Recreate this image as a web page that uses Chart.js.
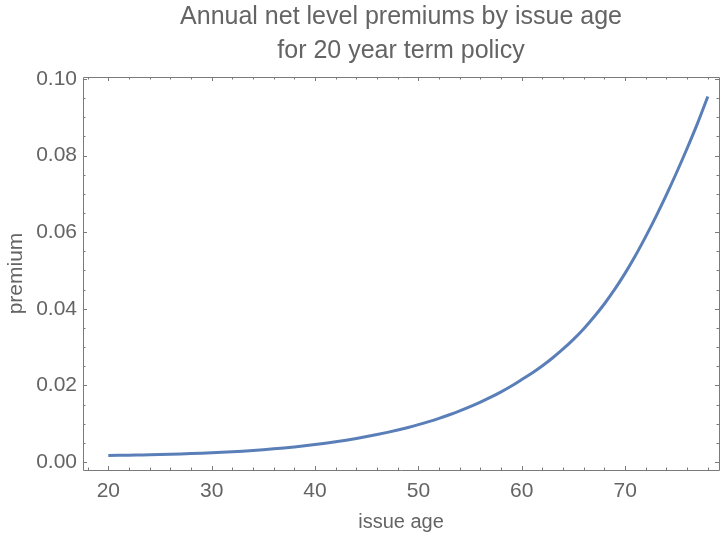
<!DOCTYPE html>
<html>
<head>
<meta charset="utf-8">
<script src="https://cdn.jsdelivr.net/npm/chart.js@4.4.0/dist/chart.umd.min.js"></script>
<style>
  html, body { margin: 0; padding: 0; background: #fff; }
</style>
</head>
<body>
<canvas id="premium-chart" width="722" height="536"></canvas>
<script>
// ── Data ──────────────────────────────────────────────────────────────
const ages = [20, 21, 22, 23, 24, 25, 26, 27, 28, 29,
              30, 31, 32, 33, 34, 35, 36, 37, 38, 39,
              40, 41, 42, 43, 44, 45, 46, 47, 48, 49,
              50, 51, 52, 53, 54, 55, 56, 57, 58, 59,
              60, 61, 62, 63, 64, 65, 66, 67, 68, 69,
              70, 71, 72, 73, 74, 75, 76, 77, 78];
const premiums = [0.00170, 0.00174, 0.00178, 0.00183, 0.00188, 0.00194, 0.00201, 0.00209, 0.00218, 0.00228,
                  0.00239, 0.00252, 0.00266, 0.00282, 0.00300, 0.00320, 0.00342, 0.00366, 0.00393, 0.00422,
                  0.00454, 0.00489, 0.00527, 0.00568, 0.00613, 0.00662, 0.00715, 0.00772, 0.00834, 0.00901,
                  0.00974, 0.01053, 0.01139, 0.01232, 0.01333, 0.01443, 0.01562, 0.01691, 0.01831, 0.01983,
                  0.02150, 0.02320, 0.02510, 0.02720, 0.02950, 0.03200, 0.03480, 0.03790, 0.04130, 0.04510,
                  0.04930, 0.05390, 0.05890, 0.06420, 0.06980, 0.07570, 0.08190, 0.08840, 0.09540];

const xMajorTicks = [20, 30, 40, 50, 60, 70];
const xMinorTicks = [18, 22, 24, 26, 28, 32, 34, 36, 38, 42, 44, 46, 48,
                     52, 54, 56, 58, 62, 64, 66, 68, 72, 74, 76, 78];
const yMajorTicks = [0, 0.02, 0.04, 0.06, 0.08, 0.10];
const yMinorTicks = [0.005, 0.01, 0.015, 0.025, 0.03, 0.035, 0.045, 0.05, 0.055,
                     0.065, 0.07, 0.075, 0.085, 0.09, 0.095];

const TEXT  = '#646464';
const FRAME = '#7a7a7a';
const FONT  = "'Liberation Sans', Arial, sans-serif";

// ── Frame + inward ticks, Mathematica style ──────────────────────────
const frameTicks = {
    id: 'frameTicks',
    afterDatasetsDraw(chart) {
        const { ctx, chartArea: a, scales: { x, y } } = chart;
        ctx.save();
        ctx.strokeStyle = FRAME;
        ctx.lineWidth = 1;
        ctx.beginPath();
        ctx.rect(Math.round(a.left) + 0.5, Math.round(a.top) + 0.5,
                 Math.round(a.right - a.left), Math.round(a.bottom - a.top));
        const xt = (v, len) => {
            const px = Math.round(x.getPixelForValue(v)) + 0.5;
            ctx.moveTo(px, a.bottom); ctx.lineTo(px, a.bottom - len);
            ctx.moveTo(px, a.top);    ctx.lineTo(px, a.top + len);
        };
        const yt = (v, len) => {
            const py = Math.round(y.getPixelForValue(v)) + 0.5;
            ctx.moveTo(a.left, py);  ctx.lineTo(a.left + len, py);
            ctx.moveTo(a.right, py); ctx.lineTo(a.right - len, py);
        };
        xMajorTicks.forEach(v => xt(v, 4));
        xMinorTicks.forEach(v => xt(v, 2.5));
        yMajorTicks.forEach(v => yt(v, 4));
        yMinorTicks.forEach(v => yt(v, 2.5));
        ctx.stroke();
        ctx.restore();
    },
};

new Chart(document.getElementById('premium-chart'), {
    type: 'line',
    data: {
        datasets: [{
            data:        ages.map((a, i) => ({ x: a, y: premiums[i] })),
            borderColor: '#5a7fb8',
            borderWidth: 3,
            pointRadius: 0,
            cubicInterpolationMode: 'monotone',
            fill:        false,
        }],
    },
    options: {
        responsive: false,
        animation:  false,
        devicePixelRatio: 1,
        layout: { padding: { left: 0, right: 3, top: 0, bottom: 0 } },
        plugins: {
            legend:  { display: false },
            tooltip: { enabled: false },
            title: {
                display:  true,
                fullSize: false,
                text:     ['Annual net level premiums by issue age', 'for 20 year term policy'],
                color:    TEXT,
                font:     { family: FONT, size: 25, weight: 'normal', lineHeight: 1.36 },
                padding:  { top: 0, bottom: 9 },
            },
        },
        scales: {
            x: {
                type: 'linear',
                min:  17.55,
                max:  79.08,
                afterBuildTicks: s => { s.ticks = xMajorTicks.map(v => ({ value: v })); },
                afterFit: s => { s.height = 66; },
                grid:   { display: false, drawTicks: false },
                border: { display: false },
                ticks:  { color: TEXT, font: { family: FONT, size: 21 }, padding: 9, maxRotation: 0 },
                title:  { display: true, text: 'issue age', color: TEXT,
                          font: { family: FONT, size: 20 }, padding: { top: 0, bottom: 2 } },
            },
            y: {
                type: 'linear',
                min:  -0.0021,
                max:  0.1005,
                afterBuildTicks: s => { s.ticks = yMajorTicks.map(v => ({ value: v })); },
                afterFit: s => { s.width = 83; },
                grid:   { display: false, drawTicks: false },
                border: { display: false },
                ticks:  { color: TEXT, font: { family: FONT, size: 21 }, padding: 6,
                          callback: v => v.toFixed(2) },
                title:  { display: true, text: 'premium', color: TEXT,
                          font: { family: FONT, size: 21 }, padding: { top: 4, bottom: 0 } },
            },
        },
    },
    plugins: [frameTicks],
});
</script>
</body>
</html>
